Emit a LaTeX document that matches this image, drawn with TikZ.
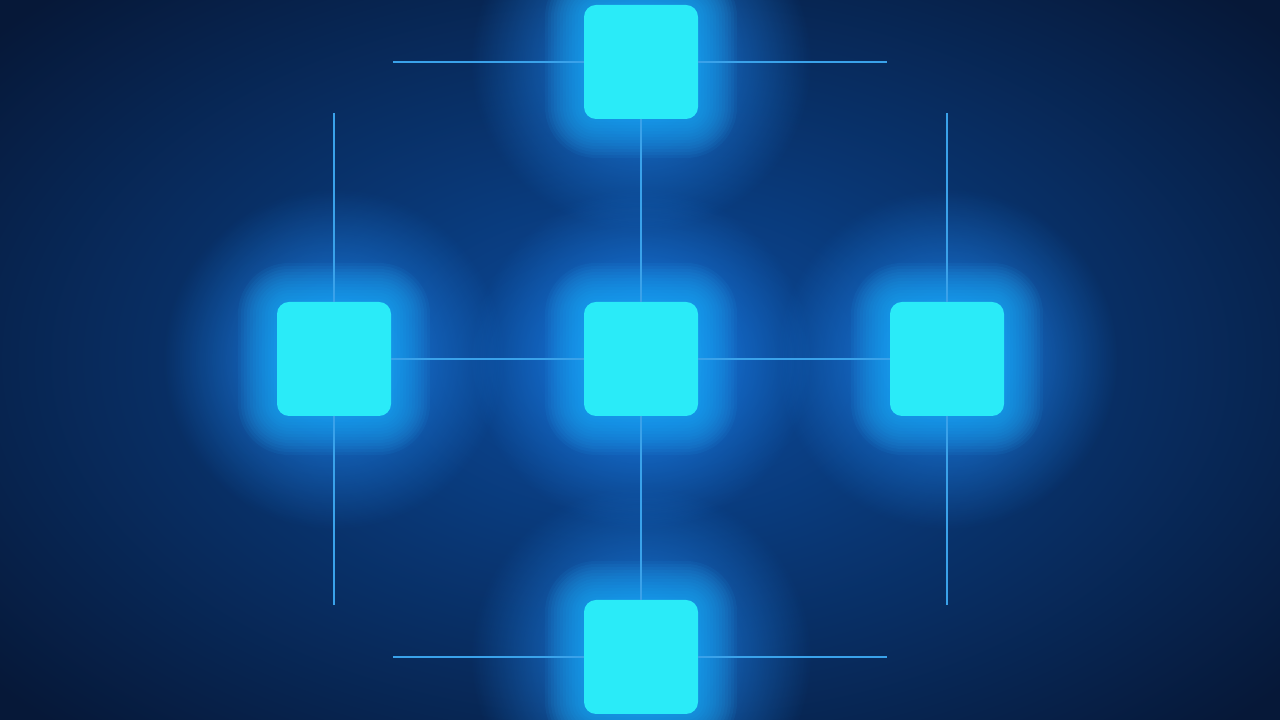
\documentclass[tikz,border=0pt]{standalone}
\usetikzlibrary{%
	positioning,
	calc,
	fadings
}
\pgfdeclarelayer{bg}
\pgfdeclarelayer{glow}
\pgfsetlayers{bg,glow,main}
\definecolor{navy}{HTML}{061838}
\definecolor{deepblue}{HTML}{0B4C9E}
\definecolor{halo}{HTML}{1E8FFF}
\definecolor{nearhalo}{HTML}{22B4FF}
\definecolor{chipcyan}{HTML}{2AEBF8}
\definecolor{wire}{HTML}{3AA2EA}
\tikzfading[name=softglow, inner color=transparent!0, outer color=transparent!100]

\begin{document}
\begin{tikzpicture}[
		chip/.style={draw=none,fill=chipcyan,shape=rectangle,minimum size=1.14cm,rounded corners=0.12cm,inner sep=0pt,outer sep=0pt},
		link/.style={draw=wire,line width=0.8pt}
	]
	\useasboundingbox (0,0) rectangle (12.8,7.2);
	\begin{pgfonlayer}{bg}
		\shade[inner color=deepblue,outer color=navy] (-2,-1.5) rectangle (14.8,8.7);
	\end{pgfonlayer}

		\node(mid) [chip] at (6.41,3.61) {};
		\node(top) [chip, above= 1.83cm of mid] {};
		\node(bottom) [chip, below= 1.84cm of mid] {};
		\node(left) [chip, left= 1.93cm of mid] {};
		\node(right) [chip, right= 1.92cm of mid] {};

		% free ends of the wires
		\coordinate(tl) at ($(top.west)+(-1.91,0)$);
		\coordinate(tr) at ($(top.east)+(1.89,0)$);
		\coordinate(bl) at ($(bottom.west)+(-1.91,0)$);
		\coordinate(br) at ($(bottom.east)+(1.89,0)$);
		\coordinate(lt) at ($(left.north)+(0,1.89)$);
		\coordinate(lb) at ($(left.south)+(0,-1.89)$);
		\coordinate(rt) at ($(right.north)+(0,1.89)$);
		\coordinate(rb) at ($(right.south)+(0,-1.89)$);

		\path[link] (tl) -- (top.west) (top.east) -- (tr);
		\path[link] (bl) -- (bottom.west) (bottom.east) -- (br);
		\path[link] (lt) -- (left.north) (left.south) -- (lb);
		\path[link] (rt) -- (right.north) (right.south) -- (rb);
		\path[link] (top.south) -- (mid.north) (mid.south) -- (bottom.north);
		\path[link] (left.east) -- (mid.west) (mid.east) -- (right.west);

	\begin{pgfonlayer}{glow}
		\foreach \n in {mid,top,bottom,left,right}{
			\fill[halo,fill opacity=0.9,path fading=softglow] (\n) circle (1.7cm);
			\foreach \r in {0.03,0.06,...,0.39}
				\fill[nearhalo,fill opacity=0.07,rounded corners=0.12cm+\r cm]
					($(\n.south west)+(-\r,-\r)$) rectangle ($(\n.north east)+(\r,\r)$);
		}
	\end{pgfonlayer}
		
\end{tikzpicture}
\end{document}
